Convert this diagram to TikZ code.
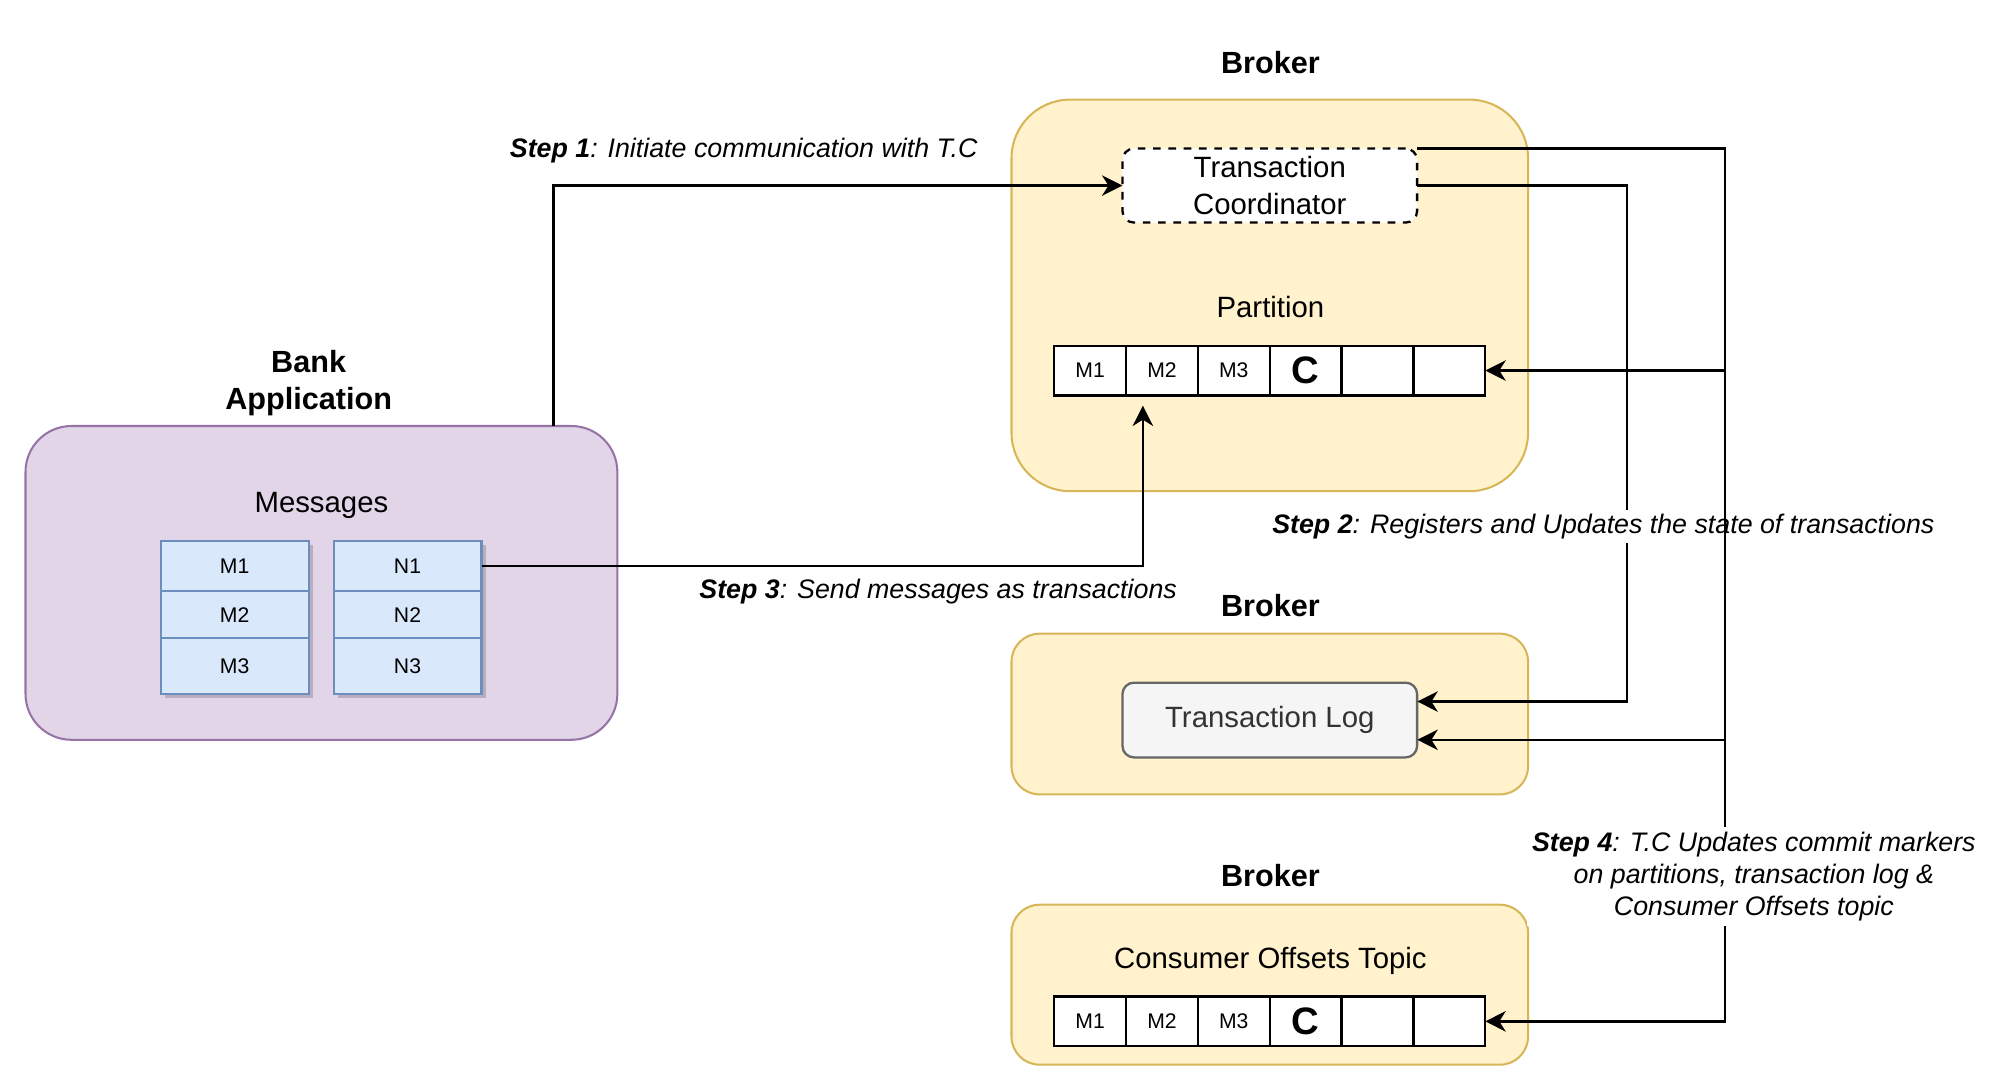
\documentclass[tikz,border=0pt]{standalone}
\usepackage{fontspec}
\setmainfont{Liberation Sans}
\usetikzlibrary{arrows.meta,shadows}
\definecolor{purfill}{HTML}{E1D5E7}
\definecolor{purline}{HTML}{9673A6}
\definecolor{yelfill}{HTML}{FFF2CC}
\definecolor{yelline}{HTML}{D6B656}
\definecolor{bluefill}{HTML}{DAE8FC}
\definecolor{blueline}{HTML}{6C8EBF}
\definecolor{grayfill}{HTML}{F5F5F5}
\definecolor{grayline}{HTML}{666666}
\definecolor{graytext}{HTML}{333333}
\begin{document}
\begin{tikzpicture}[x=0.5pt,y=-0.5pt,
  every node/.style={inner sep=0pt,outer sep=0pt},
  bankbox/.style={draw=purline,fill=purfill,line width=0.8pt,rounded corners=18pt,minimum width=232pt,minimum height=123pt},
  brokerbox/.style={draw=yelline,fill=yelfill,line width=0.8pt,minimum width=202.5pt},
  title/.style={font=\fontsize{12pt}{14.5pt}\selectfont\bfseries,align=center},
  plain/.style={font=\fontsize{11.5pt}{14.5pt}\selectfont,align=center},
  msgcell/.style={draw=blueline,fill=bluefill,line width=0.8pt,minimum width=58pt,font=\fontsize{8.3pt}{10pt}\selectfont,
     drop shadow={shadow xshift=1.8pt,shadow yshift=-1.8pt,opacity=0.18,fill=black}},
  pcell/.style={draw=black,fill=white,line width=0.9pt,minimum width=28.17pt,minimum height=19.5pt,font=\fontsize{8.3pt}{10pt}\selectfont},
  cmark/.style={font=\fontsize{15pt}{15pt}\selectfont\bfseries},
  steplabel/.style={font=\fontsize{10.5pt}{12.5pt}\selectfont\itshape,align=center},
  arr/.style={draw=black,line width=1pt,-{Stealth[length=8pt,width=8pt,inset=2.5pt]}},
  conn/.style={draw=black,line width=1pt}
]
\useasboundingbox (0,0) rectangle (1568,855);

% Bank application
\node[bankbox] (bank) at (252,457) {};
\node[title] (banklbl) at (242,300) {Bank\\Application};
\node[plain] (msgs) at (252,396) {Messages};
\node[msgcell,minimum height=19.75pt] (m1) at (184,443.75) {M1};
\node[msgcell,minimum height=18.5pt] (m2) at (184,482) {M2};
\node[msgcell,minimum height=21.8pt] (m3) at (184,522.2) {M3};
\node[msgcell,minimum height=19.75pt] (n1) at (319.5,443.75) {N1};
\node[msgcell,minimum height=18.5pt] (n2) at (319.5,482) {N2};
\node[msgcell,minimum height=21.8pt] (n3) at (319.5,522.2) {N3};

% Broker 1
\node[brokerbox,rounded corners=23pt,minimum height=153.5pt] (broker1) at (995.5,231.6) {};
\node[title] (b1lbl) at (996,49) {Broker};
\node[draw=black,fill=white,dashed,line width=0.9pt,rounded corners=4.5pt,minimum width=115.5pt,minimum height=29pt,plain] (tc) at (995.5,145.5) {Transaction\\Coordinator};
\node[plain] (partlbl) at (996,241) {Partition};
\node[pcell] (p1) at (854.7,290.5) {M1};
\node[pcell] (p2) at (911.0,290.5) {M2};
\node[pcell] (p3) at (967.3,290.5) {M3};
\node[pcell,cmark] (p4) at (1023.7,290.5) {\raisebox{-1.5pt}{C}};
\node[pcell] (p5) at (1080.0,290.5) {};
\node[pcell] (p6) at (1136.3,290.5) {};

% Broker 2
\node[brokerbox,rounded corners=11pt,minimum height=63pt] (broker2) at (995.5,559.8) {};
\node[title] (b2lbl) at (996,474.5) {Broker};
\node[draw=grayline,fill=grayfill,line width=0.9pt,rounded corners=4.5pt,minimum width=115.5pt,minimum height=29.3pt,plain,text=graytext] (tl) at (995.5,564.5) {Transaction Log};

% Broker 3
\node[brokerbox,rounded corners=11pt,minimum height=62.7pt] (broker3) at (995.5,772) {};
\node[title] (b3lbl) at (996,686.5) {Broker};
\node[plain] (cotlbl) at (996,753) {Consumer Offsets Topic};
\node[pcell] (c1) at (854.7,800.75) {M1};
\node[pcell] (c2) at (911.0,800.75) {M2};
\node[pcell] (c3) at (967.3,800.75) {M3};
\node[pcell,cmark] (c4) at (1023.7,800.75) {\raisebox{-1.5pt}{C}};
\node[pcell] (c5) at (1080.0,800.75) {};
\node[pcell] (c6) at (1136.3,800.75) {};

% helper coordinates
\coordinate (s1x) at (434,0);
\coordinate (s3tip) at (896,318);
\coordinate (s2c) at (1275.5,550);
\coordinate (tlin1) at (1111.2,550);
\coordinate (tlin2) at (1111.2,580);
\coordinate (s4c) at (1352.3,800.75);
\coordinate (s4p) at (1352.3,290.5);
\coordinate (s4t) at (1352.3,580);

% Step 1
\draw[arr] (bank.north -| s1x) |- (tc.west);
\node[steplabel] (st1) at (583,118) {{\bfseries Step 1}: Initiate communication with T.C};

% Step 3
\draw[arr] (n1.east) -| (s3tip);
\node[steplabel] (st3) at (735.5,464) {{\bfseries Step 3}: Send messages as transactions};

% Step 2
\draw[arr] (tc.east) -| (s2c) -- (tlin1);
\node[steplabel,fill=white,inner sep=1.5pt] (st2) at (1257,413) {{\bfseries Step 2}: Registers and Updates the state of transactions};

% Step 4
\draw[arr] (tc.north east) -| (s4c) -- (c6.east);
\draw[arr] (s4p) -- (p6.east);
\draw[arr] (s4t) -- (tlin2);
\node[steplabel,fill=white,inner sep=2pt] (st4) at (1375,687.5) {{\bfseries Step 4}: T.C Updates commit markers\\on partitions, transaction log \&\\Consumer Offsets topic};
\end{tikzpicture}
\end{document}
